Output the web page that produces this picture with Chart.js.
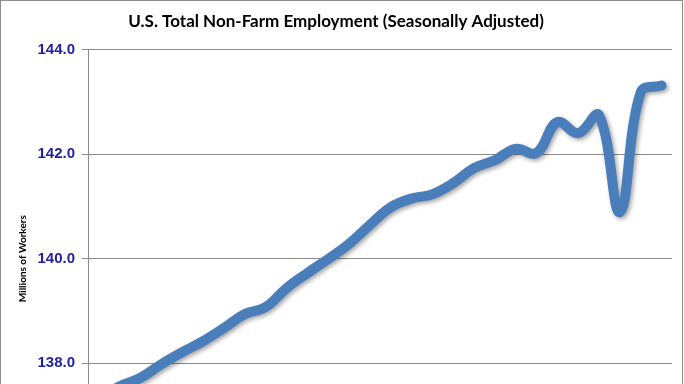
<!DOCTYPE html>
<html>
<head>
<meta charset="utf-8">
<script src="https://cdn.jsdelivr.net/npm/chart.js@4.4.1/dist/chart.umd.min.js"></script>
<style>
  html, body { margin: 0; padding: 0; background: #fff; overflow: hidden; }
  body { width: 684px; height: 384px; position: relative; }
  #wrap { position: absolute; left: 0; top: 0; width: 684px; height: 500px; }
  #frame { position: absolute; left: 0; top: 0; width: 683px; height: 500px; box-sizing: border-box;
           border: 1px solid #8c8c8c; pointer-events: none; }
</style>
</head>
<body>
<div id="wrap"><canvas id="chart-employment"></canvas></div>
<div id="frame"></div>
<script>
// monthly points, labels sit below the visible area
var periods = ['P1','P2','P3','P4','P5','P6','P7','P8','P9','P10','P11','P12','P13','P14',
               'P15','P16','P17','P18','P19','P20','P21','P22','P23','P24','P25','P26','P27','P28'];
var employment = [137.33, 137.56, 137.72, 137.98, 138.21, 138.42, 138.67, 138.94, 139.07, 139.43,
                  139.72, 139.99, 140.28, 140.64, 140.98, 141.15, 141.23, 141.44, 141.73, 141.88,
                  142.10, 142.02, 142.61, 142.40, 142.74, 140.89, 143.18, 143.31];
var yMin = 136.0;
var yMax = 144.0;
var yStep = 2.0;

var lineShadow = {
    id: 'lineShadow',
    beforeDatasetDraw: function (chart) {
        var ctx = chart.ctx;
        ctx.save();
        ctx.shadowColor = 'rgba(0, 0, 0, 0.35)';
        ctx.shadowBlur = 4;
        ctx.shadowOffsetX = 2;
        ctx.shadowOffsetY = 2;
    },
    afterDatasetDraw: function (chart) {
        chart.ctx.restore();
    }
};

const employment_context = document.getElementById('chart-employment').getContext('2d');
employment_chart = new Chart(employment_context, {
    type: 'line',
    data: {
        labels: periods,
        datasets: [{
            label: 'Total Non-Farm',
            data: employment,
            borderColor: '#4a7ebb',
            borderWidth: 10,
            borderCapStyle: 'round',
            borderJoinStyle: 'round',
            tension: 0.4,
            pointRadius: 0,
            fill: false
        }]
    },
    plugins: [lineShadow],
    options: {
        responsive: true,
        maintainAspectRatio: false,
        animation: false,
        layout: { padding: { left: 0, right: 12, top: 0, bottom: 32 } },
        plugins: {
            legend: { display: false },
            tooltip: { enabled: false },
            title: {
                display: true,
                text: 'U.S. Total Non-Farm Employment (Seasonally Adjusted)',
                color: '#000',
                font: { family: 'Lato', size: 17, weight: 'bold' },
                padding: { top: 11, bottom: 18 }
            }
        },
        scales: {
            x: {
                type: 'category',
                display: false,
                offset: true
            },
            y: {
                min: yMin,
                max: yMax,
                afterFit: function (scale) { scale.width = 88; },
                ticks: {
                    stepSize: yStep,
                    color: '#1f1fa3',
                    padding: 7,
                    font: { family: 'Liberation Sans', size: 15, weight: 'bold' },
                    callback: function (v) { return v.toFixed(1); }
                },
                grid: { color: '#8a8a8a', tickLength: 6, lineWidth: 1 },
                border: { color: '#8a8a8a', width: 1 },
                title: {
                    display: true,
                    text: 'Millions of Workers',
                    color: '#000',
                    font: { family: 'Lato', size: 10, weight: 'bold' },
                    padding: { top: 17, bottom: 0 }
                }
            }
        }
    }
});
</script>
</body>
</html>
